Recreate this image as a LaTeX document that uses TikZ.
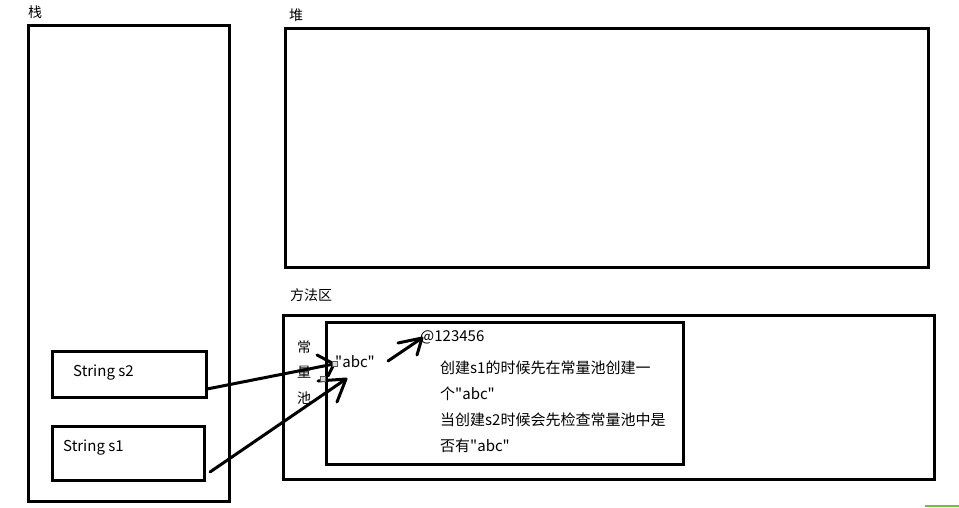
\documentclass[tikz,border=0pt]{standalone}
\usepackage{fontspec}
\setmainfont{Noto Sans CJK SC}[Ligatures=TeXOff]
\begin{document}
\begin{tikzpicture}[x=1pt,y=-1pt,
  box/.style={draw=black,line width=3pt},
  lbl/.style={font=\fontsize{14}{16}\selectfont,inner sep=0pt},
  txt/.style={font=\fontsize{15}{18}\selectfont,inner sep=0pt,anchor=west},
  hand/.style={line width=3pt,line cap=round,line join=round},
  handle/.style={draw=gray!70!black,fill=green!10!gray!30,line width=0.6pt,minimum size=5pt,inner sep=0pt}]
\useasboundingbox (0,0) rectangle (959,507);
% labels
\node[lbl,anchor=west] (lstack) at (28,12) {栈};
\node[lbl,anchor=west] (lheap) at (289,15) {堆};
\node[lbl,anchor=west] (lmeth) at (290,295) {方法区};
% boxes
\draw[box] (28,25) rectangle (229,501);
\draw[box] (285,28) rectangle (928,267);
\draw[box] (283,315) rectangle (934,479);
\draw[box] (326,322) rectangle (683,464);
\node[box,minimum width=154pt,minimum height=46pt,inner sep=0pt] (s2) at (129,374) {};
\node[txt] (s2t) at (73,373) {String s2};
\node[box,minimum width=152pt,minimum height=54pt,inner sep=0pt] (s1) at (128,453) {};
\node[txt] (s1t) at (63,448) {String s1};
% constant pool label
\node[lbl] (c1) at (304,347) {常};
\node[lbl] (c2) at (304,372) {量};
\node[lbl] (c3) at (304,398) {池};
% texts
\node[txt] (abc) at (335,362) {"abc"};
\node[txt] (addr) at (420,337) {@123456};
\node[txt] (t1) at (440,368) {创建s1的时候先在常量池创建一};
\node[txt] (t2) at (440,394) {个"abc"};
\node[txt] (t3) at (440,420) {当创建s2时候会先检查常量池中是};
\node[txt] (t4) at (440,446) {否有"abc"};
% arrows (hand drawn)
\coordinate (a1s) at (207,389);
\coordinate (a1e) at (334,364);
\draw[hand] (a1s) -- (a1e);
\draw[hand] (317,355) -- (a1e) -- (328,376);
\coordinate (a2s) at (210,472);
\coordinate (a2e) at (346,379);
\draw[hand] (a2s) -- (a2e);
\draw[hand] (318,381) -- (a2e) -- (337,402);
\coordinate (a3s) at (388,361);
\coordinate (a3e) at (422,338);
\draw[hand] (a3s) -- (a3e);
\draw[hand] (398,343) -- (a3e) -- (417,355);
% selection handles
\node[handle] (h1) at (335,364) {};
\node[handle] (h2) at (323,379) {};
% green mark
\draw[line width=2pt,color={rgb,255:red,120;green,190;blue,60}] (925,505.5) -- (959,505.5);
\end{tikzpicture}
\end{document}
